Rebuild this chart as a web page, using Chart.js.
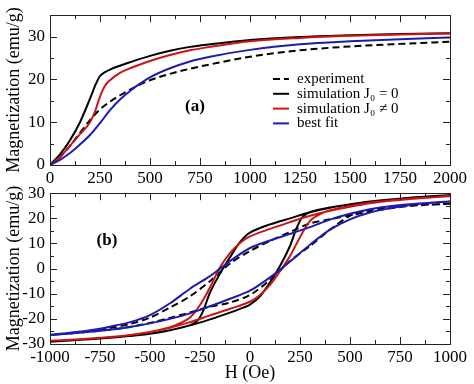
<!DOCTYPE html>
<html>
<head>
<meta charset="utf-8">
<script src="https://cdn.jsdelivr.net/npm/chart.js@4.4.0/dist/chart.umd.min.js"></script>
<style>
  body { margin: 0; background: #fff; }
  #page { position: relative; width: 474px; height: 384px; overflow: hidden; }
  canvas { position: absolute; left: 0; }
  #chartA { top: 0; }
  #chartB { top: 178px; }
</style>
</head>
<body>
<div id="page">
  <canvas id="chartA" width="474" height="190"></canvas>
  <canvas id="chartB" width="474" height="206"></canvas>
</div>
<script>
// ---------- panel (a): initial magnetization ----------
const aExpH  = [0, 50, 100, 150, 200, 250, 300, 350, 400, 450, 500, 600, 700, 800, 1000, 1250, 1500, 1750, 2000];
const aExpM  = [0, 1.8, 4.5, 7.5, 10.5, 13, 14.8, 16.3, 17.6, 18.8, 19.8, 21.3, 22.5, 23.5, 25.3, 26.8, 27.7, 28.3, 28.8];

const aSim0H = [0, 50, 100, 150, 200, 230, 250, 275, 300, 350, 400, 500, 600, 700, 800, 1000, 1250, 1500, 1750, 2000];
const aSim0M = [0, 2.5, 5.8, 10, 15.5, 19, 20.8, 21.7, 22.3, 23.2, 24, 25.5, 26.7, 27.6, 28.2, 29.2, 29.9, 30.3, 30.6, 30.8];

const aSimJH = [0, 50, 100, 150, 200, 225, 250, 275, 300, 350, 400, 500, 600, 700, 800, 1000, 1250, 1500, 1750, 2000];
const aSimJM = [0, 1.8, 4.5, 7.2, 10, 12.5, 16, 18.5, 19.8, 21.5, 22.6, 24.3, 25.7, 26.8, 27.6, 28.9, 29.7, 30.2, 30.5, 30.7];

const aFitH  = [0, 50, 100, 150, 200, 250, 300, 350, 400, 450, 500, 600, 700, 800, 1000, 1250, 1500, 1750, 2000];
const aFitM  = [0, 1.2, 2.8, 4.8, 7.0, 9.8, 12.8, 15.3, 17.3, 19.0, 20.5, 22.6, 24.2, 25.3, 26.9, 28.2, 28.9, 29.4, 29.8];

// ---------- panel (b): hysteresis loops (down = from +1000, up = from -1000) ----------
const bExpDownH = [1000, 900, 800, 700, 600, 500, 400, 300, 200, 100, 0, -100, -200, -300, -400, -500, -600, -700, -800, -900, -1000];
const bExpDownM = [25.8, 25.4, 24.9, 24.0, 22.8, 21.2, 19.6, 18.0, 14.5, 11.0, 7.0, 2.0, -5, -11, -15.5, -19.5, -22.0, -23.6, -24.8, -25.7, -26.4];
const bExpUpH   = [-1000, -900, -800, -700, -600, -500, -400, -300, -200, -100, 0, 100, 200, 300, 400, 500, 600, 700, 800, 900, 1000];
const bExpUpM   = [-26.4, -25.8, -25.1, -24.3, -23.2, -21.6, -19.6, -17.5, -15.2, -13.5, -10.5, -4.5, 3, 9, 15.5, 21.0, 23.4, 24.6, 25.2, 25.5, 25.8];

const bSim0DownH = [1000, 900, 800, 700, 600, 500, 400, 300, 200, 100, 0, -50, -100, -150, -200, -230, -260, -300, -400, -500, -600, -700, -800, -900, -1000];
const bSim0DownM = [29.2, 28.8, 28.2, 27.4, 26.6, 25.5, 24.2, 22.4, 20.0, 17.6, 14.3, 10.5, 4.5, -2, -9.5, -16, -20.5, -22.5, -24.5, -25.9, -26.8, -27.5, -28.1, -28.6, -29.1];
const bSim0UpH   = [-1000, -900, -800, -700, -600, -500, -400, -300, -200, -100, -50, 0, 50, 100, 150, 200, 230, 260, 300, 400, 500, 600, 700, 800, 900, 1000];
const bSim0UpM   = [-29.1, -28.6, -28.1, -27.5, -26.8, -25.9, -24.5, -22.6, -20.2, -17.5, -16, -14.3, -11, -5.5, 1, 9, 15.5, 20.3, 22.5, 24.3, 25.6, 26.7, 27.5, 28.2, 28.7, 29.2];

const bSimJDownH = [1000, 900, 800, 700, 600, 500, 400, 300, 200, 100, 0, -50, -100, -150, -200, -250, -300, -350, -400, -500, -600, -700, -800, -900, -1000];
const bSimJDownM = [28.8, 28.3, 27.7, 27.0, 26.0, 24.6, 23.0, 21.0, 18.5, 15.8, 12.8, 10.2, 6.2, 0.5, -7.5, -14.5, -19.5, -21.7, -23.3, -25.2, -26.4, -27.2, -27.8, -28.3, -28.7];
const bSimJUpH   = [-1000, -900, -800, -700, -600, -500, -400, -300, -200, -100, 0, 50, 100, 150, 200, 250, 300, 350, 400, 500, 600, 700, 800, 900, 1000];
const bSimJUpM   = [-28.7, -28.3, -27.8, -27.2, -26.4, -25.2, -23.5, -21.3, -18.6, -16.0, -13.2, -10.5, -6.5, -1, 5, 12.5, 19, 21.7, 23.2, 24.9, 26.2, 27.1, 27.8, 28.3, 28.8];

const bFitDownH = [1000, 900, 800, 700, 600, 500, 400, 300, 200, 100, 0, -100, -150, -200, -300, -400, -500, -600, -700, -800, -900, -1000];
const bFitDownM = [26.7, 26.2, 25.6, 24.8, 23.6, 21.8, 19.5, 16.5, 13.8, 11.2, 8.2, 3.0, 0, -3, -8, -13.8, -18.5, -21.3, -23.1, -24.5, -25.5, -26.4];
const bFitUpH   = [-1000, -900, -800, -700, -600, -500, -400, -300, -200, -100, 0, 100, 150, 200, 300, 400, 500, 600, 700, 800, 900, 1000];
const bFitUpM   = [-26.4, -25.8, -25.1, -24.3, -23.2, -21.8, -20.0, -17.8, -15.0, -12.0, -8.8, -3.5, -0.5, 2.8, 9.5, 15.5, 19.6, 22.3, 24.0, 25.3, 26.1, 26.7];

const seriesNames = ['experiment', 'simulation J\u2080 = 0', 'simulation J\u2080 \u2260 0', 'best fit'];
const seriesColors = ['#000000', '#000000', '#cc1414', '#1c1cb0'];

const SERIF = "'Liberation Serif', 'Times New Roman', serif";

function pts(h, m) {
  return h.map((v, i) => ({ x: v, y: m[i] }));
}

function loop(dh, dm, uh, um) {
  return pts(dh, dm).concat(pts(uh, um).slice(1));
}

function makeSets(list, smooth) {
  return list.map((d, i) => ({
    label: seriesNames[i],
    data: d,
    borderColor: seriesColors[i],
    borderWidth: 2,
    borderDash: i === 0 ? [7, 4] : [],
    pointRadius: 0,
    showLine: true,
    fill: false,
    tension: smooth ? 0 : 0.3,
    cubicInterpolationMode: smooth ? 'monotone' : 'default',
    order: 4 - i
  }));
}

// frame and inward ticks on all four sides
const frameTicks = {
  id: 'frameTicks',
  afterDatasetsDraw(chart, args, o) {
    const { ctx, chartArea: a } = chart;
    const x = chart.scales.x, y = chart.scales.y;
    ctx.save();
    ctx.strokeStyle = '#222';
    ctx.lineWidth = 1;
    ctx.setLineDash([]);
    ctx.beginPath();
    for (let v = x.min; v <= x.max + 1e-6; v += o.xMinor) {
      const px = Math.round(x.getPixelForValue(v)) + 0.5;
      const len = Math.abs(v % o.xMajor) < 1e-6 ? 7 : 4;
      ctx.moveTo(px, a.bottom); ctx.lineTo(px, a.bottom - len);
      ctx.moveTo(px, a.top); ctx.lineTo(px, a.top + len);
    }
    for (let v = y.min; v <= y.max + 1e-6; v += o.yMinor) {
      const py = Math.round(y.getPixelForValue(v)) + 0.5;
      const len = Math.abs(v % o.yMajor) < 1e-6 ? 7 : 4;
      ctx.moveTo(a.left, py); ctx.lineTo(a.left + len, py);
      ctx.moveTo(a.right, py); ctx.lineTo(a.right - len, py);
    }
    ctx.stroke();
    ctx.strokeRect(Math.round(a.left) + 0.5, Math.round(a.top) + 0.5,
                   Math.round(a.right - a.left), Math.round(a.bottom - a.top));
    ctx.restore();
  }
};

// panel tag and in-plot legend
const annot = {
  id: 'annot',
  afterDraw(chart, args, o) {
    const ctx = chart.ctx;
    const x = chart.scales.x, y = chart.scales.y;
    ctx.save();
    ctx.fillStyle = '#000';
    ctx.font = 'bold 17px ' + SERIF;
    ctx.textAlign = 'center';
    ctx.textBaseline = 'middle';
    ctx.fillText(o.tag, x.getPixelForValue(o.tagX), y.getPixelForValue(o.tagY));
    if (o.legend) {
      const L = o.legend;
      ctx.font = '15px ' + SERIF;
      ctx.textAlign = 'left';
      chart.data.datasets.forEach((ds, i) => {
        const yy = L.y + i * L.step;
        ctx.strokeStyle = ds.borderColor;
        ctx.lineWidth = 2;
        ctx.setLineDash(ds.borderDash);
        ctx.beginPath();
        ctx.moveTo(L.x, yy);
        ctx.lineTo(L.x + 16, yy);
        ctx.stroke();
        ctx.fillText(ds.label, L.x + 24, yy);
      });
    }
    ctx.restore();
  }
};

function axisX(min, max, title, h) {
  return {
    type: 'linear', min: min, max: max,
    grid: { display: false, drawTicks: false },
    border: { display: false },
    ticks: {
      stepSize: 250, autoSkip: false, maxRotation: 0, padding: 3,
      color: '#000', font: { family: SERIF, size: 17 },
      callback: v => String(v)
    },
    title: { display: !!title, text: title, color: '#000',
             font: { family: SERIF, size: 18 }, padding: { top: 0, bottom: 0 } },
    afterFit: s => { s.height = h; }
  };
}

function axisY(min, max) {
  return {
    type: 'linear', min: min, max: max,
    grid: { display: false, drawTicks: false },
    border: { display: false },
    ticks: {
      stepSize: 10, includeBounds: false, padding: 5,
      color: '#000', font: { family: SERIF, size: 17 },
      callback: v => String(v)
    },
    title: { display: true, text: 'Magnetization (emu/g)', color: '#000',
             font: { family: SERIF, size: 18 }, padding: { top: 3, bottom: 0 } },
    afterFit: s => { s.width = 50; }
  };
}

new Chart(document.getElementById('chartA'), {
  type: 'scatter',
  data: {
    datasets: makeSets([pts(aExpH, aExpM), pts(aSim0H, aSim0M), pts(aSimJH, aSimJM), pts(aFitH, aFitM)], true)
  },
  options: {
    responsive: false,
    animation: false,
    layout: { padding: { top: 12, right: 24, left: 0, bottom: 0 } },
    scales: { x: axisX(0, 2000, '', 25), y: axisY(0, 35) },
    plugins: {
      legend: { display: false },
      tooltip: { enabled: false },
      frameTicks: { xMajor: 250, xMinor: 125, yMajor: 10, yMinor: 5 },
      annot: { tag: '(a)', tagX: 725, tagY: 13.6, legend: { x: 273, y: 79, step: 14.8 } }
    }
  },
  plugins: [frameTicks, annot]
});

new Chart(document.getElementById('chartB'), {
  type: 'scatter',
  data: {
    datasets: makeSets([
      loop(bExpDownH, bExpDownM, bExpUpH, bExpUpM),
      loop(bSim0DownH, bSim0DownM, bSim0UpH, bSim0UpM),
      loop(bSimJDownH, bSimJDownM, bSimJUpH, bSimJUpM),
      loop(bFitDownH, bFitDownM, bFitUpH, bFitUpM)
    ], false)
  },
  options: {
    responsive: false,
    animation: false,
    layout: { padding: { top: 15, right: 24, left: 0, bottom: 0 } },
    scales: { x: axisX(-1000, 1000, 'H (Oe)', 40), y: axisY(-30, 30) },
    plugins: {
      legend: { display: false },
      tooltip: { enabled: false },
      frameTicks: { xMajor: 250, xMinor: 125, yMajor: 10, yMinor: 5 },
      annot: { tag: '(b)', tagX: -715, tagY: 11.3 }
    }
  },
  plugins: [frameTicks, annot]
});
</script>
</body>
</html>
